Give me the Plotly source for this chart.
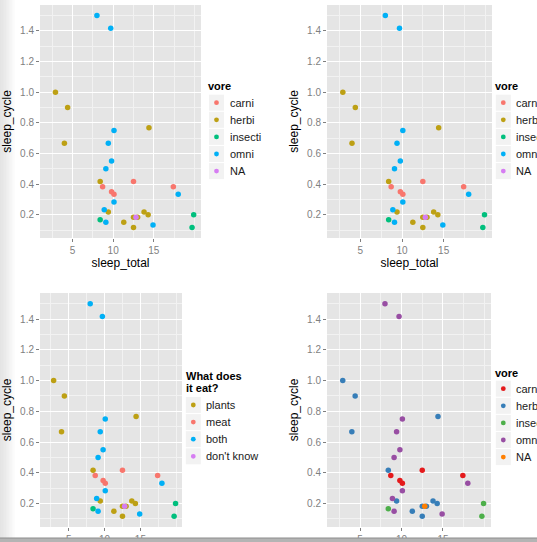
import plotly.graph_objects as go

# msleep : lignes ou sleep_cycle est renseigne (ordre des lignes du jeu de donnees)
sleep_total = [14.9, 4.0, 14.4, 8.7, 10.1, 9.4, 12.5, 9.1, 17.4, 18.0, 19.7,
               2.9, 10.1, 12.5, 9.8, 8.0, 10.1, 14.3, 12.5, 19.9, 8.4, 9.7,
               9.4, 13.0, 8.4, 11.3, 13.8, 12.8, 9.1, 4.4, 8.9, 9.8]
sleep_cycle = [0.133, 0.667, 0.767, 0.383, 0.333, 0.217, 0.117, 0.150, 0.383,
               0.333, 0.117, 1.000, 0.283, 0.417, 0.550, 1.500, 0.750, 0.200,
               0.183, 0.200, 0.417, 1.417, 0.667, 0.183, 0.167, 0.150, 0.217,
               0.183, 0.500, 0.900, 0.233, 0.350]
vore = ["omni", "herbi", "herbi", "carni", "carni", "herbi", "herbi", "omni",
        "carni", "omni", "insecti", "herbi", "omni", "carni", "omni", "omni",
        "omni", "herbi", "herbi", "insecti", "herbi", "omni", "omni", "herbi",
        "insecti", "herbi", "herbi", "NA", "omni", "herbi", "omni", "carni"]

# l'echelle x est entrainee sur toute la colonne sleep_total (y compris cycle manquant)
sleep_total_limits = [1.9, 19.9]

vore_levels = ["carni", "herbi", "insecti", "omni", "NA"]
hue_colors = ["#F8766D", "#BDA014", "#00BF7D", "#00B0F6", "#D67DF2"]
set1_colors = ["#E41A1C", "#377EB8", "#4DAF4A", "#984EA3", "#FF7F00"]
x_ticks = [5, 10, 15]
x_minor = [2.5, 7.5, 12.5, 17.5, 20]
y_ticks = [0.2, 0.4, 0.6, 0.8, 1.0, 1.2, 1.4]
y_minor = [0.1, 0.3, 0.5, 0.7, 0.9, 1.1, 1.3, 1.5]

# panneau 3 : legende renommee, sans insecti
eat_levels = ["herbi", "carni", "omni", "NA"]
eat_labels = ["plants", "meat", "both", "don't know"]

W, H = 537, 542
FONT = "Liberation Sans, Arial, sans-serif"


def px_x(a, b):
    return [a / W, b / W]


def px_y(top, bottom):
    return [1 - bottom / H, 1 - top / H]


def expand(lo, hi):
    d = (hi - lo) * 0.05
    return [lo - d, hi + d]


x_range = expand(*sleep_total_limits)
y_range = expand(min(sleep_cycle), max(sleep_cycle))

# panneaux : domaines en pixels, couleurs et legende (position en pixels)
panels = [
    {"x": px_x(40, 201), "y": px_y(5, 238), "colors": hue_colors, "xtitle": True,
     "title": ["vore"], "tx": 208, "ty": [86], "kx": 216.5, "ky": 102.7, "rename": False},
    {"x": px_x(327, 492), "y": px_y(5, 238), "colors": hue_colors, "xtitle": True,
     "title": ["vore"], "tx": 495, "ty": [86], "kx": 503.3, "ky": 102.7, "rename": False},
    {"x": px_x(40, 182), "y": px_y(293, 527), "colors": hue_colors, "xtitle": False,
     "title": ["What does", "it eat?"], "tx": 185.5, "ty": [376, 387.5], "kx": 193.3,
     "ky": 405, "rename": True},
    {"x": px_x(327, 491), "y": px_y(293, 527), "colors": set1_colors, "xtitle": False,
     "title": ["vore"], "tx": 495, "ty": [373.3], "kx": 503.3, "ky": 388.7, "rename": False},
]
STEP = 17.1

fig = go.Figure()
layout = {}
shapes = []
annotations = []

for i, p in enumerate(panels, start=1):
    suffix = "" if i == 1 else str(i)
    for k, level in enumerate(vore_levels):
        xs = [x for x, v in zip(sleep_total, vore) if v == level]
        ys = [y for y, v in zip(sleep_cycle, vore) if v == level]
        fig.add_trace(go.Scatter(
            x=xs, y=ys, mode="markers", name=level,
            marker={"color": p["colors"][k], "size": 5.5},
            xaxis="x" + suffix, yaxis="y" + suffix, showlegend=False,
        ))

    axis_common = {
        "automargin": False,
        "showline": False, "zeroline": False,
        "showgrid": True, "gridcolor": "#ffffff", "gridwidth": 1.1,
        "ticks": "outside", "ticklen": 3, "tickwidth": 1, "tickcolor": "#7F7F7F",
        "tickfont": {"family": FONT, "size": 10, "color": "#7F7F7F"},
    }
    layout["xaxis" + suffix] = dict(
        axis_common, domain=p["x"], anchor="y" + suffix, range=x_range,
        tickmode="array", tickvals=x_ticks,
        minor={"tickvals": x_minor, "showgrid": True, "gridcolor": "#F2F2F2",
               "gridwidth": 0.6, "ticks": ""},
        title={"text": "sleep_total" if p["xtitle"] else "",
               "font": {"family": FONT, "size": 12, "color": "#000000"}, "standoff": 2},
    )
    layout["yaxis" + suffix] = dict(
        axis_common, domain=p["y"], anchor="x" + suffix, range=y_range,
        tickmode="array", tickvals=y_ticks, tickformat=".1f",
        minor={"tickvals": y_minor, "showgrid": True, "gridcolor": "#F2F2F2",
               "gridwidth": 0.6, "ticks": ""},
        title={"text": "sleep_cycle",
               "font": {"family": FONT, "size": 12, "color": "#000000"}, "standoff": 5},
    )

    # fond gris du panneau
    shapes.append({"type": "rect", "xref": "x" + suffix + " domain",
                   "yref": "y" + suffix + " domain", "x0": 0, "x1": 1, "y0": 0, "y1": 1,
                   "fillcolor": "#E5E5E5", "line": {"width": 0}, "layer": "below"})

    # legende facon ggplot (cles grises, points, libelles)
    for line, ty in zip(p["title"], p["ty"]):
        annotations.append({"text": "<b>" + line + "</b>", "xref": "paper", "yref": "paper",
                            "x": (p["tx"] - 2) / W, "y": 1 - ty / H, "xanchor": "left",
                            "yanchor": "middle", "showarrow": False,
                            "font": {"family": FONT, "size": 11, "color": "#000000"}})
    if p["rename"]:
        entries = [(eat_labels[j], p["colors"][vore_levels.index(lv)])
                   for j, lv in enumerate(eat_levels)]
    else:
        entries = [(lv, p["colors"][k]) for k, lv in enumerate(vore_levels)]
    for j, (label, color) in enumerate(entries):
        cy = p["ky"] + j * STEP
        kx = p["kx"]
        shapes.append({"type": "rect", "xref": "paper", "yref": "paper",
                       "x0": (kx - 7.5) / W, "x1": (kx + 7.5) / W,
                       "y0": 1 - (cy + 8) / H, "y1": 1 - (cy - 8) / H,
                       "fillcolor": "#F2F2F2", "line": {"width": 0}, "layer": "above"})
        shapes.append({"type": "circle", "xref": "paper", "yref": "paper",
                       "x0": (kx - 2.4) / W, "x1": (kx + 2.4) / W,
                       "y0": 1 - (cy + 2.4) / H, "y1": 1 - (cy - 2.4) / H,
                       "fillcolor": color, "line": {"width": 0}, "layer": "above"})
        annotations.append({"text": label, "xref": "paper", "yref": "paper",
                            "x": (kx + 11) / W, "y": 1 - cy / H, "xanchor": "left",
                            "yanchor": "middle", "showarrow": False,
                            "font": {"family": FONT, "size": 11, "color": "#1a1a1a"}})

# ombre a gauche et barre grise en bas (capture d'ecran)
for j in range(10):
    shapes.append({"type": "rect", "xref": "paper", "yref": "paper",
                   "x0": 0, "x1": (1.5 * j + 1.5) / W, "y0": 0, "y1": 1,
                   "fillcolor": "#c8c8c8", "opacity": 0.05, "line": {"width": 0},
                   "layer": "below"})
shapes.append({"type": "rect", "xref": "paper", "yref": "paper",
               "x0": 0, "x1": 1, "y0": 0, "y1": 4 / H,
               "fillcolor": "#b4b4b4", "line": {"width": 0}, "layer": "above"})
shapes.append({"type": "line", "xref": "paper", "yref": "paper",
               "x0": 0, "x1": 1, "y0": 4 / H, "y1": 4 / H,
               "line": {"color": "#8c8c8c", "width": 1}, "layer": "above"})

fig.update_layout(
    width=W, height=H,
    margin={"l": 0, "r": 0, "t": 0, "b": 0},
    paper_bgcolor="#ffffff", plot_bgcolor="rgba(0,0,0,0)",
    font={"family": FONT},
    showlegend=False,
    shapes=shapes,
    annotations=annotations,
    **layout,
)

# pas de marge autour de la page, sinon la figure deborde de la fenetre
page_css = ("document.documentElement.style.overflow='hidden';"
            "document.body.style.margin='0';document.body.style.overflow='hidden';")
fig.write_html("out.html", config={"displayModeBar": False}, post_script=page_css)
